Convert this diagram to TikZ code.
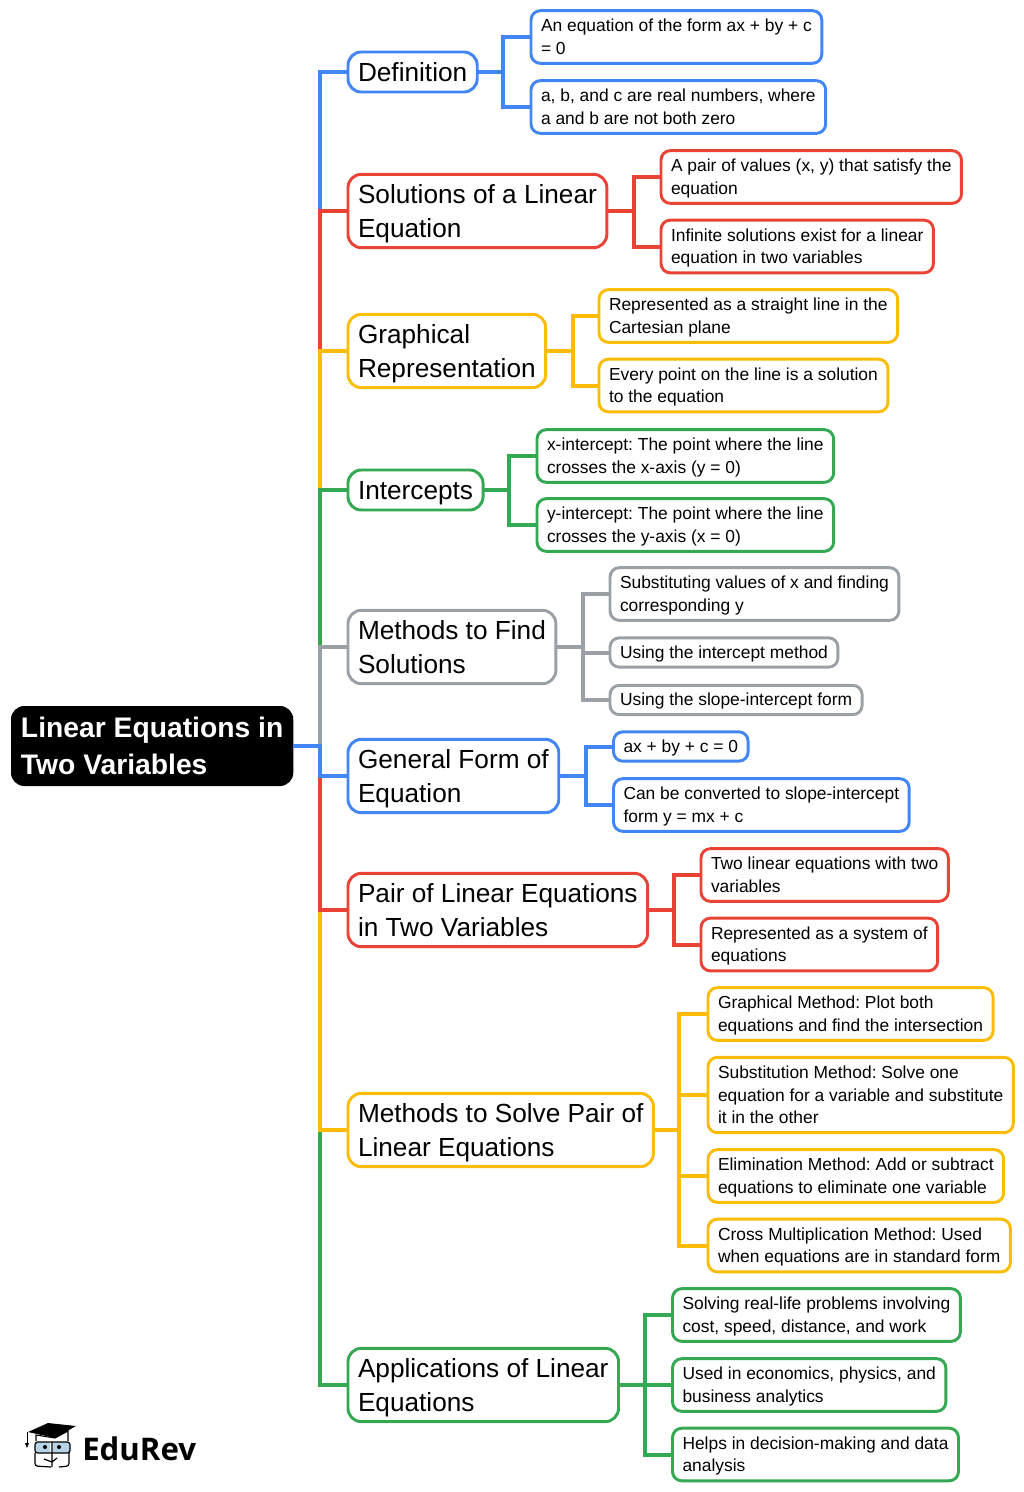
\documentclass[tikz,border=0pt]{standalone}
\usepackage{fontspec}
\setmainfont{Liberation Sans}
\newfontfamily\logofont{Open Sans}
\frenchspacing
\definecolor{gblue}{HTML}{4285F4}
\definecolor{gred}{HTML}{EA4335}
\definecolor{gyellow}{HTML}{FBBC04}
\definecolor{ggreen}{HTML}{34A853}
\definecolor{ggray}{HTML}{9AA0A6}
\definecolor{lensblue}{HTML}{B9D3E6}
\newcommand\capstrut{\vrule height \dimexpr(\baselineskip+\fontcharht\font`E)/2\relax depth \dimexpr(\baselineskip-\fontcharht\font`E)/2\relax width 0pt\relax}
\tikzset{
    boxtext/.style={anchor=west, align=left, outer sep=0pt, inner xsep=7.5pt, inner ysep=0pt, execute at end node=\capstrut},
    rootbox/.style={boxtext, fill=black, text=white, rounded corners=10pt, minimum height=60pt, font=\fontsize{21.2}{27.7}\selectfont\bfseries},
    topicbox/.style={boxtext, draw=#1, fill=white, line width=2.2pt, rounded corners=10pt, font=\fontsize{19.65}{25.5}\selectfont},
    notebox/.style={boxtext, draw=#1, fill=white, line width=2.2pt, rounded corners=7pt, font=\fontsize{13.05}{17}\selectfont},
    link/.style={draw=#1, line width=3pt}
}
\begin{document}
\begin{tikzpicture}[x=0.75pt, y=-0.75pt]
    \useasboundingbox (0, 0) rectangle (1024, 1492);
    \path (11, 746) node[rootbox](root) {\capstrut Linear Equations in\\Two Variables};
    \path (348, 72) node[topicbox=gblue, minimum height=30pt](def) {Definition}
        (348, 211) node[topicbox=gred, minimum height=55pt](sol) {\capstrut Solutions of a Linear\\Equation}
        (348, 351) node[topicbox=gyellow, minimum height=55pt](graph) {\capstrut Graphical\\Representation}
        (348, 490) node[topicbox=ggreen, minimum height=30pt](inter) {Intercepts}
        (348, 647) node[topicbox=ggray, minimum height=55pt](find) {\capstrut Methods to Find\\Solutions}
        (348, 776) node[topicbox=gblue, minimum height=55pt](form) {\capstrut General Form of\\Equation}
        (348, 910) node[topicbox=gred, minimum height=55pt](pair) {\capstrut Pair of Linear Equations\\in Two Variables}
        (348, 1130) node[topicbox=gyellow, minimum height=55pt](solve) {\capstrut Methods to Solve Pair of\\Linear Equations}
        (348, 1385) node[topicbox=ggreen, minimum height=55pt](app) {\capstrut Applications of Linear\\Equations};
    % definition
    \path (531, 37) node[notebox=gblue, minimum height=39.5pt](def1) {\capstrut An equation of the form ax + by + c\\= 0}
        (531, 107) node[notebox=gblue, minimum height=39.5pt](def2) {\capstrut a, b, and c are real numbers, where\\a and b are not both zero};
    % solutions
    \path (661, 177) node[notebox=gred, minimum height=39.5pt](sol1) {\capstrut A pair of values (x, y) that satisfy the\\equation}
        (661, 246.5) node[notebox=gred, minimum height=39.5pt](sol2) {\capstrut Infinite solutions exist for a linear\\equation in two variables};
    % graphical
    \path (599, 316) node[notebox=gyellow, minimum height=39.5pt](graph1) {\capstrut Represented as a straight line in the\\Cartesian plane}
        (599, 385.5) node[notebox=gyellow, minimum height=39.5pt](graph2) {\capstrut Every point on the line is a solution\\to the equation};
    % intercepts
    \path (537, 456) node[notebox=ggreen, minimum height=39.5pt](inter1) {\capstrut x-intercept: The point where the line\\crosses the x-axis (y = 0)}
        (537, 525) node[notebox=ggreen, minimum height=39.5pt](inter2) {\capstrut y-intercept: The point where the line\\crosses the y-axis (x = 0)};
    % methods
    \path (610, 594) node[notebox=ggray, minimum height=39.5pt](find1) {\capstrut Substituting values of x and finding\\corresponding y}
        (610, 652.5) node[notebox=ggray, minimum height=22pt](find2) {Using the intercept method}
        (610, 700) node[notebox=ggray, minimum height=22pt](find3) {Using the slope-intercept form};
    % general form
    \path (613.5, 746.5) node[notebox=gblue, minimum height=22pt](form1) {ax + by + c = 0}
        (613.5, 805) node[notebox=gblue, minimum height=39.5pt](form2) {\capstrut Can be converted to slope-intercept\\form y = mx + c};
    % pair
    \path (701, 875) node[notebox=gred, minimum height=39.5pt](pair1) {\capstrut Two linear equations with two\\variables}
        (701, 944.5) node[notebox=gred, minimum height=39.5pt](pair2) {\capstrut Represented as a system of\\equations};
    % solving
    \path (708, 1014) node[notebox=gyellow, minimum height=39.5pt](solve1) {\capstrut Graphical Method: Plot both\\equations and find the intersection}
        (708, 1095) node[notebox=gyellow, minimum height=56.5pt](solve2) {\capstrut Substitution Method: Solve one\\equation for a variable and substitute\\it in the other}
        (708, 1176) node[notebox=gyellow, minimum height=39.5pt](solve3) {\capstrut Elimination Method: Add or subtract\\equations to eliminate one variable}
        (708, 1245.5) node[notebox=gyellow, minimum height=39.5pt](solve4) {\capstrut Cross Multiplication Method: Used\\when equations are in standard form};
    % applications
    \path (672.5, 1315) node[notebox=ggreen, minimum height=39.5pt](app1) {\capstrut Solving real-life problems involving\\cost, speed, distance, and work}
        (672.5, 1385) node[notebox=ggreen, minimum height=39.5pt](app2) {\capstrut Used in economics, physics, and\\business analytics}
        (672.5, 1454.5) node[notebox=ggreen, minimum height=39.5pt](app3) {\capstrut Helps in decision-making and data\\analysis};
    % trunk, outermost branches first
    \draw[link=gblue] (root.east) -- ++(27, 0) |- (def.west);
    \draw[link=gred] (root.east) -- ++(27, 0) |- (sol.west);
    \draw[link=gyellow] (root.east) -- ++(27, 0) |- (graph.west);
    \draw[link=ggreen] (root.east) -- ++(27, 0) |- (inter.west);
    \draw[link=ggray] (root.east) -- ++(27, 0) |- (find.west);
    \draw[link=ggreen] (root.east) -- ++(27, 0) |- (app.west);
    \draw[link=gyellow] (root.east) -- ++(27, 0) |- (solve.west);
    \draw[link=gred] (root.east) -- ++(27, 0) |- (pair.west);
    \draw[link=gblue] (root.east) -- ++(27, 0) |- (form.west);
    % branches
    \draw[link=gblue] (def.east) -- ++(26, 0) |- (def1.west);
    \draw[link=gblue] (def.east) -- ++(26, 0) |- (def2.west);
    \draw[link=gred] (sol.east) -- ++(27, 0) |- (sol1.west);
    \draw[link=gred] (sol.east) -- ++(27, 0) |- (sol2.west);
    \draw[link=gyellow] (graph.east) -- ++(27, 0) |- (graph1.west);
    \draw[link=gyellow] (graph.east) -- ++(27, 0) |- (graph2.west);
    \draw[link=ggreen] (inter.east) -- ++(26, 0) |- (inter1.west);
    \draw[link=ggreen] (inter.east) -- ++(26, 0) |- (inter2.west);
    \draw[link=ggray] (find.east) -- ++(27, 0) |- (find1.west);
    \draw[link=ggray] (find.east) -- ++(27, 0) |- (find2.west);
    \draw[link=ggray] (find.east) -- ++(27, 0) |- (find3.west);
    \draw[link=gblue] (form.east) -- ++(27, 0) |- (form1.west);
    \draw[link=gblue] (form.east) -- ++(27, 0) |- (form2.west);
    \draw[link=gred] (pair.east) -- ++(26, 0) |- (pair1.west);
    \draw[link=gred] (pair.east) -- ++(26, 0) |- (pair2.west);
    \draw[link=gyellow] (solve.east) -- ++(26, 0) |- (solve1.west);
    \draw[link=gyellow] (solve.east) -- ++(26, 0) |- (solve2.west);
    \draw[link=gyellow] (solve.east) -- ++(26, 0) |- (solve3.west);
    \draw[link=gyellow] (solve.east) -- ++(26, 0) |- (solve4.west);
    \draw[link=ggreen] (app.east) -- ++(26, 0) |- (app1.west);
    \draw[link=ggreen] (app.east) -- ++(26, 0) |- (app2.west);
    \draw[link=ggreen] (app.east) -- ++(26, 0) |- (app3.west);
    % logo
    \fill[lensblue, rounded corners=1pt] (35, 1442) rectangle (50, 1453) (53, 1442) rectangle (70, 1453);
    \draw[line width=0.9pt, rounded corners=2pt] (35, 1442) rectangle (70, 1453);
    \draw[line width=0.9pt, rounded corners=2pt] (35, 1453) -- (35, 1466) -- (51, 1467) (69, 1453) -- (69, 1466) -- (59, 1467);
    \draw[line width=0.9pt] (52, 1442) -- (52, 1467) (44, 1459) -- (52, 1462) -- (57, 1458);
    \fill (28, 1432) -- (48, 1423) -- (76, 1426) -- (55, 1438) -- cycle;
    \draw[line width=0.8pt] (36, 1441) -- (36, 1435) -- (55, 1438) -- (68, 1431) -- (68, 1441);
    \draw[line width=0.7pt] (27, 1432) -- (27, 1443);
    \fill (25, 1443) -- (29, 1443) -- (27, 1448) -- cycle;
    \fill (45, 1447) circle (2) (59, 1447) circle (2);
    \path (82, 1449) node[anchor=west, inner sep=0pt, font=\logofont\fontsize{23.4}{28}\selectfont\bfseries](brand) {EduRev};
\end{tikzpicture}
\end{document}
